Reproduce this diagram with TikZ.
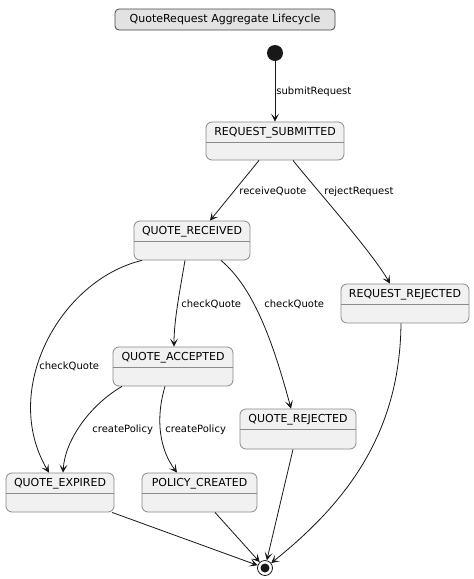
\documentclass[tikz,border=0pt]{standalone}
\usepackage{fontspec}
\setmainfont{DejaVu Sans}
\usetikzlibrary{arrows.meta}
\definecolor{stfill}{HTML}{F1F1F1}
\definecolor{stborder}{HTML}{8A8A8A}
\definecolor{ttfill}{HTML}{E2E2E2}
\definecolor{ink}{HTML}{181818}
\tikzset{
  stbox/.style={draw=stborder, fill=stfill, rounded corners=6pt, line width=0.8pt, inner sep=0pt},
  sttext/.style={anchor=base, inner sep=0pt, font=\fontsize{11}{13}\selectfont, text=black},
  stline/.style={draw=stborder, line width=0.8pt},
  lbl/.style={anchor=base west, inner sep=0pt, font=\fontsize{10}{12}\selectfont, text=black},
  tr/.style={draw=ink, line width=0.8pt, -{Stealth[length=8pt,width=8pt,inset=4pt]}},
}
\newcommand\mystate[6]{%
  \node[stbox, minimum width=#4pt, minimum height=#5pt] (#1) at (#2,#3) {};
  \node[sttext] (#1t) at ([yshift=-14pt]#1.north) {#6};
  \draw[stline] ([yshift=-20.5pt]#1.north west) -- ([yshift=-20.5pt]#1.north east);
}
\begin{document}
\begin{tikzpicture}[x=1pt,y=-1pt]
\useasboundingbox (0,0) rectangle (474,579);
\fill[white] (0,0) rectangle (474,579);
% title
\node[draw=ink!80, fill=ttfill, rounded corners=4pt, line width=0.8pt, minimum width=220pt, minimum height=21pt, inner sep=0pt, font=\fontsize{11}{13}\selectfont] (title) at (225,19.5) {QuoteRequest Aggregate Lifecycle};
% start / end
\node[circle, fill=ink, minimum size=16pt, inner sep=0pt] (start) at (275,53) {};
\node[circle, draw=ink, fill=white, line width=0.8pt, minimum size=15pt, inner sep=0pt] (end) at (265,568) {};
\node[circle, fill=ink, minimum size=9pt, inner sep=0pt] (endi) at (265,568) {};
% states
\mystate{rs}{275}{141}{138}{38}{REQUEST\_SUBMITTED}
\mystate{qr}{192}{240.5}{116}{39}{QUOTE\_RECEIVED}
\mystate{rej}{405}{303.5}{128}{39}{REQUEST\_REJECTED}
\mystate{qa}{173}{366.5}{120}{39}{QUOTE\_ACCEPTED}
\mystate{qrej}{298}{429}{116}{40}{QUOTE\_REJECTED}
\mystate{qe}{60}{492.5}{108}{39}{QUOTE\_EXPIRED}
\mystate{pc}{199.5}{492.5}{115}{39}{POLICY\_CREATED}
% transitions
\draw[tr] (start) -- (rs.north) node[lbl] at (276,94.5) {submitRequest};
\draw[tr] ([xshift=-16pt]rs.south) -- ([xshift=18pt]qr.north) node[lbl] at (239,194.5) {receiveQuote};
\draw[tr] ([xshift=18pt]rs.south) .. controls (315,188) and (372,252) .. ([xshift=-15pt]rej.north) node[lbl] at (324,194.5) {rejectRequest};
\draw[tr] ([xshift=-7pt]qr.south) .. controls (180,290) and (174,320) .. ([xshift=1pt]qa.north) node[lbl] at (181,307.5) {checkQuote};
\draw[tr] ([xshift=29pt]qr.south) .. controls (250,285) and (270,330) .. ([xshift=-7pt]qrej.north) node[lbl] at (264,307.5) {checkQuote};
\draw[tr] ([xshift=-50pt]qr.south) .. controls (60,280) and (0,390) .. ([xshift=-11pt]qe.north) node[lbl] at (39,369.5) {checkQuote};
\draw[tr] ([xshift=-51pt]qa.south) .. controls (90,405) and (65,440) .. ([xshift=3pt]qe.north) node[lbl] at (92,432.5) {createPolicy};
\draw[tr] ([xshift=-8pt]qa.south) .. controls (155,420) and (160,450) .. ([xshift=-22.5pt]pc.north) node[lbl] at (165,432.5) {createPolicy};
\draw[tr] ([xshift=52pt]qe.south) -- (end);
\draw[tr] ([xshift=15.5pt]pc.south) -- (end);
\draw[tr] ([xshift=-5pt]qrej.south) -- (end);
\draw[tr] ([xshift=-4pt]rej.south) .. controls (400,430) and (350,500) .. (end);
\end{tikzpicture}
\end{document}
